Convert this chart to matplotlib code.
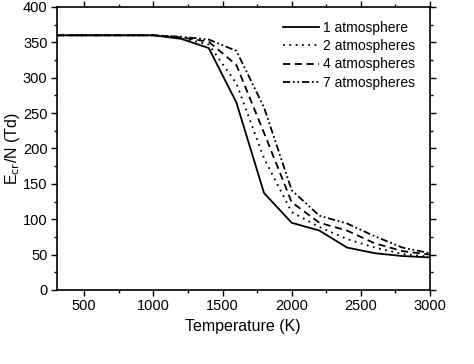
import numpy as np
import matplotlib
matplotlib.use('Agg')
import matplotlib.pyplot as plt
from matplotlib.ticker import MultipleLocator

plt.rcParams['font.family'] = ['Liberation Sans', 'DejaVu Sans']

# data
T = [300, 1000, 1200, 1400, 1600, 1800, 2000, 2200, 2400, 2600, 2800, 3000]
atm1 = [360, 360, 355, 342, 265, 137, 95, 84, 60, 52, 48, 46]
atm2 = [360, 360, 356, 347, 292, 186, 110, 89, 72, 60, 51, 47]
atm4 = [360, 360, 357, 351, 318, 222, 124, 95, 84, 66, 55, 50]
atm7 = [360, 360, 358, 354, 338, 258, 141, 105, 94, 76, 60, 52]
labels = ['1 atmosphere', '2 atmospheres', '4 atmospheres', '7 atmospheres']

fig = plt.figure(figsize=(4.74, 3.64), dpi=100)
ax = fig.add_axes([0.1194, 0.2033, 0.9072 - 0.1194, 0.9808 - 0.2033])

ax.plot(T, atm1, color='k', lw=1.3, ls='-', label=labels[0])
ax.plot(T, atm2, color='k', lw=1.3, ls=(0, (1, 2.5)), label=labels[1])
ax.plot(T, atm4, color='k', lw=1.3, ls=(0, (4, 2.5)), label=labels[2])
ax.plot(T, atm7, color='k', lw=1.3, ls=(0, (4, 1.5, 1, 1.5, 1, 1.5)), label=labels[3])

ax.set_xlim(300, 3000)
ax.set_ylim(0, 400)
ax.xaxis.set_major_locator(MultipleLocator(500))
ax.xaxis.set_minor_locator(MultipleLocator(250))
ax.yaxis.set_major_locator(MultipleLocator(50))
ax.yaxis.set_minor_locator(MultipleLocator(25))
ax.tick_params(which='both', direction='out', top=True, right=True, labelsize=10.5)
ax.tick_params(which='major', length=4, width=1, pad=2.5)
ax.tick_params(which='minor', length=2.5, width=1)
for s in ax.spines.values():
    s.set_linewidth(1.2)

ax.set_xlabel('Temperature (K)', fontsize=11.5)
ax.set_ylabel(r'E$_{\mathrm{cr}}$/N (Td)', fontsize=11.5, labelpad=1)

ax.legend(loc='upper right', bbox_to_anchor=(0.975, 0.97), frameon=False,
          fontsize=10, handlelength=2.6, handletextpad=0.3, labelspacing=0.3,
          borderaxespad=0)

fig.savefig('out.png', dpi=100)
